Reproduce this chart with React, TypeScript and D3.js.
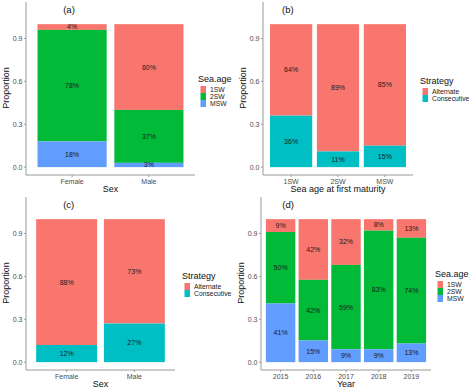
import React from "react";
import * as d3 from "d3";

// panel (a): sea age by sex
const sexCats = ["Female", "Male"];
const sexSW1 = [4, 60];
const sexSW2 = [78, 37];
const sexMSW = [18, 3];

// panel (b): strategy by sea age at first maturity
const maturityCats = ["1SW", "2SW", "MSW"];
const maturityAlternate = [64, 89, 85];
const maturityConsecutive = [36, 11, 15];

// panel (c): strategy by sex
const sexAlternate = [88, 73];
const sexConsecutive = [12, 27];

// panel (d): sea age by year
const yearCats = ["2015", "2016", "2017", "2018", "2019"];
const yearSW1 = [9, 42, 32, 8, 13];
const yearSW2 = [50, 42, 59, 83, 74];
const yearMSW = [41, 15, 9, 9, 13];

const seaAgeKeys = ["1SW", "2SW", "MSW"];
const strategyKeys = ["Alternate", "Consecutive"];
const yTicks = [0, 0.3, 0.6, 0.9];

const seaAgeColors = ["#F8766D", "#00BA38", "#619CFF"];
const strategyColors = ["#F8766D", "#00BFC4"];

const FONT = "'Liberation Sans', Arial, sans-serif";

type PanelProps = {
  ox: number;
  oy: number;
  x0: number;
  x1: number;
  cats: string[];
  keys: string[];
  series: number[][];
  colors: string[];
  tag: string;
  tagX: number;
  xTitle: string;
  legendTitle: string;
  legendX: number;
  legendY: number;
};

function Panel(p: PanelProps) {
  const rows = p.cats.map((c, i) => {
    const r: Record<string, any> = { cat: c };
    p.keys.forEach((k, j) => (r[k] = p.series[j][i]));
    return r;
  });
  const stacked = d3
    .stack<any>()
    .keys(p.keys)
    .order(d3.stackOrderReverse)
    .offset(d3.stackOffsetExpand)(rows);

  const x = d3
    .scaleLinear()
    .domain([0.4, p.cats.length + 0.6])
    .range([p.x0, p.x1]);
  const y = d3.scaleLinear().domain([-0.055, 1.155]).range([175, 2]);
  const color = d3.scaleOrdinal<string>().domain(p.keys).range(p.colors);
  const half = 0.45;

  return (
    <g transform={`translate(${p.ox},${p.oy})`} fontFamily={FONT}>
      {stacked.map((s) => (
        <g key={s.key} fill={color(s.key)}>
          {s.map((d, i) => (
            <rect
              key={i}
              x={x(i + 1 - half)}
              width={x(i + 1 + half) - x(i + 1 - half)}
              y={y(d[1])}
              height={y(d[0]) - y(d[1])}
            />
          ))}
        </g>
      ))}
      {stacked.map((s) =>
        s.map((d, i) => (
          <text
            key={s.key + i}
            x={x(i + 1)}
            y={y((d[0] + d[1]) / 2)}
            dy="0.35em"
            textAnchor="middle"
            fontSize={7}
            fill="#1a1a1a"
          >
            {`${d.data[s.key]}%`}
          </text>
        ))
      )}
      {/* axes */}
      <path
        d={`M${p.x0},2V175H${p.x1}`}
        fill="none"
        stroke="#9a9a9a"
        strokeWidth={1}
      />
      {yTicks.map((t) => (
        <g key={t} transform={`translate(${p.x0},${y(t)})`}>
          <line x1={-2} x2={0} stroke="#9a9a9a" />
          <text
            x={-3.5}
            dy="0.35em"
            textAnchor="end"
            fontSize={7}
            fill="#4d4d4d"
          >
            {d3.format(".1f")(t)}
          </text>
        </g>
      ))}
      {p.cats.map((c, i) => (
        <g key={c} transform={`translate(${x(i + 1)},175)`}>
          <line y2={2} stroke="#9a9a9a" />
          <text y={8.5} textAnchor="middle" fontSize={7} fill="#4d4d4d">
            {c}
          </text>
        </g>
      ))}
      <text
        x={(p.x0 + p.x1) / 2}
        y={192}
        textAnchor="middle"
        fontSize={9}
        fill="#111"
      >
        {p.xTitle}
      </text>
      <text
        transform={`translate(${p.x0 - 17},88) rotate(-90)`}
        textAnchor="middle"
        fontSize={9}
        fill="#111"
      >
        Proportion
      </text>
      <text
        x={x(p.tagX)}
        y={y(1.1)}
        dy="0.35em"
        textAnchor="middle"
        fontSize={9.5}
        fill="#111"
      >
        {p.tag}
      </text>
      {/* legend */}
      <text x={p.legendX} y={p.legendY} fontSize={9} fill="#111">
        {p.legendTitle}
      </text>
      {p.keys.map((k, j) => (
        <g key={k} transform={`translate(${p.legendX + 2.5},${p.legendY + 4 + j * 7})`}>
          <rect width={5.5} height={7} fill={color(k)} />
          <text x={9.5} y={3.5} dy="0.35em" fontSize={6.8} fill="#1a1a1a">
            {k}
          </text>
        </g>
      ))}
    </g>
  );
}

export default function App() {
  return (
    <svg
      width={474}
      height={391}
      style={{ position: "absolute", left: 0, top: 0, background: "#fff" }}
    >
      <rect width={474} height={391} fill="#fff" />
      <Panel
        ox={0}
        oy={0}
        x0={26}
        x1={195}
        cats={sexCats}
        keys={seaAgeKeys}
        series={[sexSW1, sexSW2, sexMSW]}
        colors={seaAgeColors}
        tag="(a)"
        tagX={0.96}
        xTitle="Sex"
        legendTitle="Sea.age"
        legendX={198}
        legendY={82}
      />
      <Panel
        ox={0}
        oy={0}
        x0={263}
        x1={413}
        cats={maturityCats}
        keys={strategyKeys}
        series={[maturityAlternate, maturityConsecutive]}
        colors={strategyColors}
        tag="(b)"
        tagX={0.93}
        xTitle="Sea age at first maturity"
        legendTitle="Strategy"
        legendX={420}
        legendY={84}
      />
      <Panel
        ox={0}
        oy={195}
        x0={26}
        x1={175}
        cats={sexCats}
        keys={strategyKeys}
        series={[sexAlternate, sexConsecutive]}
        colors={strategyColors}
        tag="(c)"
        tagX={1.03}
        xTitle="Sex"
        legendTitle="Strategy"
        legendX={182}
        legendY={84}
      />
      <Panel
        ox={0}
        oy={195}
        x0={261}
        x1={431}
        cats={yearCats}
        keys={seaAgeKeys}
        series={[yearSW1, yearSW2, yearMSW]}
        colors={seaAgeColors}
        tag="(d)"
        tagX={1.23}
        xTitle="Year"
        legendTitle="Sea.age"
        legendX={435}
        legendY={82}
      />
    </svg>
  );
}
